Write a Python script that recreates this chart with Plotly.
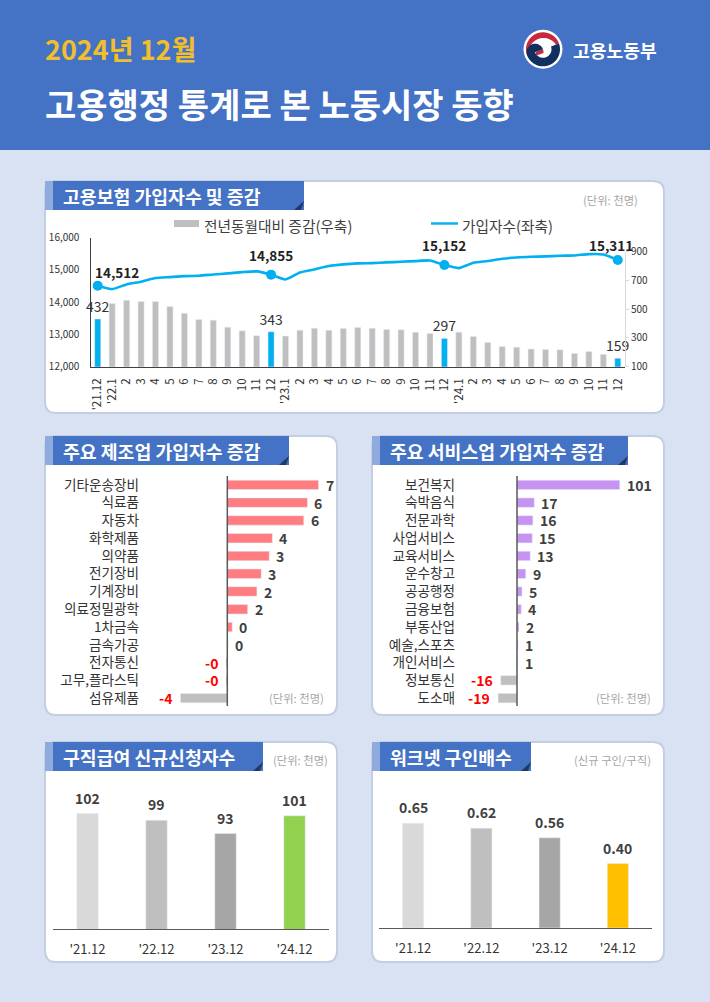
import math
import plotly.graph_objects as go

W, H = 710, 1002
FONT = "Noto Sans CJK KR"

# ---------- data ----------
months = ["'21.12", "'22.1", "2", "3", "4", "5", "6", "7", "8", "9", "10", "11", "12",
          "'23.1", "2", "3", "4", "5", "6", "7", "8", "9", "10", "11", "12",
          "'24.1", "2", "3", "4", "5", "6", "7", "8", "9", "10", "11", "12"]
change = [432, 539, 562, 553, 553, 518, 472, 428, 424, 375, 350, 315, 343,
          313, 354, 368, 354, 366, 373, 368, 359, 357, 340, 331, 297,
          340, 310, 269, 241, 236, 223, 220, 218, 192, 206, 186, 159]
members = [14512, 14407, 14552, 14634, 14748, 14779, 14810, 14820, 14860, 14893, 14934, 14955, 14855,
           14706, 14924, 15017, 15120, 15172, 15203, 15213, 15234, 15254, 15275, 15295, 15152,
           15058, 15223, 15275, 15347, 15388, 15409, 15420, 15440, 15450, 15492, 15482, 15311]
highlight = [0, 12, 24, 36]

mfg_names = ["기타운송장비", "식료품", "자동차", "화학제품", "의약품", "전기장비", "기계장비",
             "의료정밀광학", "1차금속", "금속가공", "전자통신", "고무,플라스틱", "섬유제품"]
mfg_values = [7.4, 6.5, 6.2, 3.65, 3.4, 2.75, 2.4, 1.65, 0.4, 0.05, -0.1, -0.1, -3.8]
mfg_labels = ["7", "6", "6", "4", "3", "3", "2", "2", "0", "0", "-0", "-0", "-4"]

svc_names = ["보건복지", "숙박음식", "전문과학", "사업서비스", "교육서비스", "운수창고", "공공행정",
             "금융보험", "부동산업", "예술,스포츠", "개인서비스", "정보통신", "도소매"]
svc_values = [101, 17, 15.6, 15, 13, 8.6, 4.9, 4.2, 2, 1, 0.6, -16, -18.6]
svc_labels = ["101", "17", "16", "15", "13", "9", "5", "4", "2", "1", "1", "-16", "-19"]

year_labels = ["'21.12", "'22.12", "'23.12", "'24.12"]
claims = [102, 99, 93, 101]
job_ratio = [0.65, 0.62, 0.56, 0.40]

# ---------- helpers (pixel -> paper) ----------
def X(x): return x / W
def Y(y): return 1 - y / H
def xd(a, b): return [X(a), X(b)]
def yd(top, bottom): return [Y(bottom), Y(top)]

shapes, annos = [], []

def rect(x0, y0, x1, y1, color, layer="below"):
    shapes.append(dict(type="rect", xref="paper", yref="paper", x0=X(x0), x1=X(x1), y0=Y(y0), y1=Y(y1),
                       fillcolor=color, line=dict(width=0), layer=layer))

def poly(points, color, layer="below"):
    d = "M" + "L".join(f"{X(a):.5f},{Y(b):.5f}" for a, b in points) + "Z"
    shapes.append(dict(type="path", xref="paper", yref="paper", path=d, fillcolor=color,
                       line=dict(width=0), layer=layer))

def panel(x0, y0, x1, y1, r=11):
    d = (f"M{X(x0+r)},{Y(y0)}L{X(x1-r)},{Y(y0)}Q{X(x1)},{Y(y0)} {X(x1)},{Y(y0+r)}"
         f"L{X(x1)},{Y(y1-r)}Q{X(x1)},{Y(y1)} {X(x1-r)},{Y(y1)}"
         f"L{X(x0+r)},{Y(y1)}Q{X(x0)},{Y(y1)} {X(x0)},{Y(y1-r)}"
         f"L{X(x0)},{Y(y0+r)}Q{X(x0)},{Y(y0)} {X(x0+r)},{Y(y0)}Z")
    shapes.append(dict(type="path", xref="paper", yref="paper", path=d, fillcolor="white",
                       line=dict(color="#C3CEE3", width=2), layer="below"))

def text(x, y, s, size, color="#333333", anchor="left", bold=False):
    x = x - 1.5 if anchor == "left" else x + 1.5
    annos.append(dict(xref="paper", yref="paper", x=X(x), y=Y(y), text=f"<b>{s}</b>" if bold else s,
                      showarrow=False, xanchor=anchor, yanchor="middle",
                      font=dict(family=FONT, size=size, color=color)))

def ribbon(x0, x1, y0, title):
    rect(x0, y0, x1, y0 + 29, "#4472C4")
    rect(x0, y0, x0 + 8, y0 + 29, "#8FAADC")
    poly([(x1, y0 + 20), (x1 - 3, y0 + 29), (x1 - 10, y0 + 29)], "#1F3864")
    text(x0 + 17, y0 + 15, title, 18.3, "white", bold=True)

def circle(cx, cy, r, color):
    shapes.append(dict(type="circle", xref="paper", yref="paper", x0=X(cx - r), x1=X(cx + r),
                       y0=Y(cy + r), y1=Y(cy - r), fillcolor=color, line=dict(width=0), layer="below"))

def taeguk(cx, cy, R, rot, upper=True):
    """One half of the emblem as a polygon."""
    pts = []
    sgn = 1 if upper else -1
    for i in range(41):
        t = math.pi * i / 40
        pts.append((R * math.cos(t), -sgn * R * math.sin(t)))
    for i in range(21):
        t = math.pi * i / 20
        pts.append((-R + R / 2 - R / 2 * math.cos(t), sgn * R / 2 * math.sin(t)))
    for i in range(21):
        t = math.pi * i / 20
        pts.append((R / 2 * math.cos(math.pi - t), -sgn * R / 2 * math.sin(t)))
    c, s = math.cos(rot), math.sin(rot)
    return [(cx + a * c - b * s, cy + a * s + b * c) for a, b in pts]

# ---------- page furniture ----------
rect(0, 0, W, 150, "#4472C4")
text(44, 49, "2024년 12월", 27, "#F2BE2C", bold=True)
text(44, 104, "고용행정 통계로 본 노동시장 동향", 34, "white", bold=True)

circle(543, 49.3, 19.5, "#FFFFFF")
poly(taeguk(543, 49.3, 17, math.radians(-20), True), "#C8283C")
poly(taeguk(543.5, 53, 15, math.radians(-20), True), "#FFFFFF")
poly(taeguk(543, 49.3, 17, math.radians(-20), False), "#12305F")
text(572, 50, "고용노동부", 18.2, "white", bold=True)

panel(45, 181, 664, 413)
panel(45, 436, 337, 715)
panel(372, 436, 664, 715)
panel(45, 742, 337, 962)
panel(372, 742, 664, 962)

ribbon(45, 304, 181, "고용보험 가입자수 및 증감")
ribbon(45, 289, 436, "주요 제조업 가입자수 증감")
ribbon(372, 628, 436, "주요 서비스업 가입자수 증감")
ribbon(45, 263, 742, "구직급여 신규신청자수")
ribbon(372, 531, 742, "워크넷 구인배수")

UNIT = "#A6A6A6"
text(638, 200, "(단위: 천명)", 11.3, UNIT, "right")
text(324, 698, "(단위: 천명)", 11.3, UNIT, "right")
text(651, 698, "(단위: 천명)", 11.3, UNIT, "right")
text(328, 760, "(단위: 천명)", 11.3, UNIT, "right")
text(651, 760, "(신규 구인/구직)", 11.3, UNIT, "right")

# manual legend, main chart
rect(174, 220, 199, 227, "#BFBFBF")
text(203, 225, "전년동월대비 증감(우축)", 14.7, "#404040")
rect(431, 222.3, 458, 224.7, "#00B0F0")
text(461, 225, "가입자수(좌축)", 14.7, "#404040")

fig = go.Figure()
x_idx = list(range(len(months)))

# ---------- main chart ----------
fig.add_bar(x=x_idx, y=change, xaxis="x", yaxis="y2", name="전년동월대비 증감(우축)",
            marker_color=["#00B0F0" if i in highlight else "#BFBFBF" for i in x_idx],
            text=[str(change[i]) if i in highlight else "" for i in x_idx],
            textposition="outside", constraintext="none", cliponaxis=False,
            textfont=dict(family=FONT, size=14, color="#333333"), showlegend=False)
fig.add_scatter(x=x_idx, y=members, xaxis="x", yaxis="y", mode="lines", name="가입자수(좌축)",
                line=dict(color="#00B0F0", width=2.6, shape="spline", smoothing=0.5), showlegend=False)
fig.add_scatter(x=highlight, y=[members[i] for i in highlight], xaxis="x", yaxis="y", mode="markers",
                marker=dict(color="#00B0F0", size=10), showlegend=False, cliponaxis=False)
shifts = {0: (19, 14), 12: (0, 20), 24: (0, 20), 36: (-7, 15)}
for i in highlight:
    annos.append(dict(xref="x", yref="y", x=i, y=members[i], text=f"<b>{members[i]:,}</b>", showarrow=False,
                      xshift=shifts[i][0], yshift=shifts[i][1],
                      font=dict(family=FONT, size=13.5, color="#222222")))

# ---------- horizontal bars ----------
def hbar(names, values, labels, color, xa, ya):
    fig.add_bar(y=names, x=values, orientation="h", xaxis=xa, yaxis=ya, showlegend=False, width=0.53,
                marker_color=[color if v >= 0 else "#BFBFBF" for v in values])
    for n, v, l in zip(names, values, labels):
        neg = l.startswith("-")
        annos.append(dict(xref=xa, yref=ya, x=v, y=n, text=f"<b>{l}</b>", showarrow=False,
                          xanchor="right" if neg else "left", xshift=-6 if neg else 5,
                          font=dict(family=FONT, size=14, color="#FF0000" if neg else "#404040")))
    shapes.append(dict(type="line", xref=xa, yref="paper", x0=0, x1=0, y0=Y(706), y1=Y(476),
                       line=dict(color="#595959", width=1.5), layer="above"))

hbar(mfg_names, mfg_values, mfg_labels, "#FF7C80", "x2", "y3")
hbar(svc_names, svc_values, svc_labels, "#C693F2", "x3", "y4")

# ---------- column charts ----------
def columns(cats, values, labels, colors, xa, ya):
    fig.add_bar(x=cats, y=values, xaxis=xa, yaxis=ya, showlegend=False, width=0.31, marker_color=colors)
    for c, v, l in zip(cats, values, labels):
        annos.append(dict(xref=xa, yref=ya, x=c, y=v, text=f"<b>{l}</b>", showarrow=False,
                          yanchor="bottom", yshift=4, font=dict(family=FONT, size=14, color="#404040")))

columns(year_labels, claims, [str(v) for v in claims], ["#D9D9D9", "#BFBFBF", "#A6A6A6", "#92D050"], "x4", "y5")
columns(year_labels, job_ratio, [f"{v:.2f}" for v in job_ratio], ["#D9D9D9", "#BFBFBF", "#A6A6A6", "#FFC000"], "x5", "y6")

def hidden_x(domain, rng, anchor):
    return dict(domain=domain, range=rng, anchor=anchor, visible=True, showgrid=False, showticklabels=False,
                ticks="", zeroline=False, showline=False, fixedrange=True)

def cat_y(domain, anchor, names):
    return dict(domain=domain, anchor=anchor, range=[len(names) - 0.5, -0.5], categoryorder="array", categoryarray=names,
                tickmode="array", tickvals=names, ticktext=names,
                showgrid=False, zeroline=False, showline=False, ticks="", fixedrange=True,
                tickfont=dict(family=FONT, size=13.6, color="#333333"), ticklabelstandoff=3)

def col_x(domain, anchor):
    return dict(domain=domain, anchor=anchor, showgrid=False, showline=True, linecolor="#595959", linewidth=1.2,
                ticks="", ticklabelstandoff=8, tickfont=dict(family=FONT, size=13, color="#333333"), fixedrange=True)

def col_y(domain, rng, anchor):
    return dict(domain=domain, range=rng, anchor=anchor, visible=False, fixedrange=True)

fig.update_layout(
    width=W, height=H, margin=dict(l=0, r=0, t=0, b=0, autoexpand=False), autosize=False,
    paper_bgcolor="#D9E2F3", plot_bgcolor="rgba(0,0,0,0)",
    font=dict(family=FONT, color="#333333"), bargap=0.58, barmode="overlay",
    shapes=shapes, annotations=annos,
    xaxis=dict(domain=xd(90.5, 625), range=[-0.5, 36.5], anchor="y", tickmode="array", tickvals=x_idx,
               ticktext=months, tickangle=-90, showgrid=False, showline=True, linecolor="#404040", linewidth=1.2,
               ticks="", ticklabelstandoff=6, tickfont=dict(family=FONT, size=11.5, color="#333333"), fixedrange=True),
    yaxis=dict(domain=yd(237.7, 366.7), range=[12000, 16000], anchor="x", tickvals=[12000, 13000, 14000, 15000, 16000],
               tickformat=",d", showgrid=False, zeroline=False, showline=True, linecolor="#404040", linewidth=1.2,
               ticks="", ticklabelstandoff=8, tickfont=dict(family=FONT, size=10, color="#333333"), fixedrange=True),
    yaxis2=dict(domain=yd(251.7, 366.7), range=[100, 900], anchor="x", side="right", tickvals=[100, 300, 500, 700, 900],
                showgrid=False, zeroline=False, showline=True, linecolor="#D9D9D9", linewidth=1, ticks="outside",
                ticklen=3, tickcolor="#D9D9D9", tickfont=dict(family=FONT, size=10, color="#333333"), fixedrange=True),
    xaxis2=hidden_x(xd(143, 330), [(143 - 227.3) / 12.33, (330 - 227.3) / 12.33], "y3"),
    yaxis3=cat_y(yd(476, 707), "x2", mfg_names),
    xaxis3=hidden_x(xd(459, 655), [(459 - 517) / 1.017, (655 - 517) / 1.017], "y4"),
    yaxis4=cat_y(yd(476, 707), "x3", svc_names),
    xaxis4=col_x(xd(53, 329), "y5"),
    yaxis5=col_y(yd(775, 929), [50, 119.4], "x4"),
    xaxis5=col_x(xd(379, 652), "y6"),
    yaxis6=col_y(yd(775, 928), [0, 0.95], "x5"),
)
fig.update_xaxes(automargin=False)
fig.update_yaxes(automargin=False)

js = """
var s=document.createElement('style');
s.textContent='html,body{margin:0!important;padding:0!important;width:710px;height:1002px;overflow:hidden}';
document.head.appendChild(s);
var g=document.querySelector('.plotly-graph-div');
g.style.position='absolute';g.style.left='0';g.style.top='0';
"""
fig.write_html("out.html", config=dict(displayModeBar=False), post_script=js)
